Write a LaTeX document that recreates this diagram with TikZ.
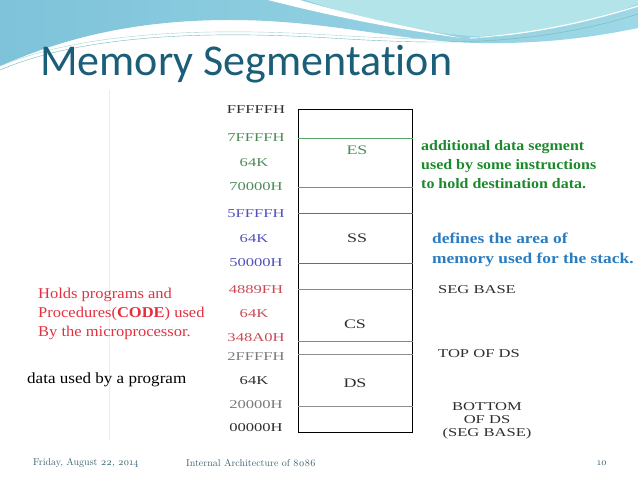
\documentclass[tikz,border=0pt]{standalone}
\usepackage{fontspec}
\usetikzlibrary{positioning}
\newfontfamily\titlefont[Ligatures=NoCommon]{Carlito}
\newfontfamily\memfont[FakeStretch=1.38]{Liberation Serif}
\newfontfamily\notefont[FakeStretch=1.1]{Liberation Serif}
\newfontfamily\stackfont[FakeStretch=1.16]{Liberation Serif}
\newfontfamily\footfont[Numbers=OldStyle]{Latin Modern Roman}
\definecolor{hdrA}{HTML}{7EC3DA}
\definecolor{hdrB}{HTML}{9ED8E6}
\definecolor{hdrC}{HTML}{B2E4EA}
\definecolor{titleteal}{HTML}{1B5E78}
\definecolor{esgreen}{HTML}{5AA468}
\definecolor{ssblue}{HTML}{5E5EDC}
\definecolor{csred}{HTML}{EC5868}
\definecolor{dsgray}{HTML}{8E8E8E}
\definecolor{memtext}{HTML}{2E2E2E}
\definecolor{notegreen}{HTML}{1C8A2C}
\definecolor{noteblue}{HTML}{2A7CC2}
\definecolor{notered}{HTML}{E2303E}
\definecolor{foottext}{HTML}{3A6474}

\begin{document}
\begin{tikzpicture}[x=1pt,y=-1pt,
    addr/.style={font=\memfont\fontsize{12}{13}\selectfont, inner sep=0pt, align=center},
    segname/.style={addr, font=\memfont\fontsize{13}{13}\selectfont},
    note/.style={font=\notefont\fontsize{15}{19}\selectfont, inner sep=0pt, align=left, anchor=west},
    foot/.style={font=\footfont\fontsize{10}{10}\selectfont, text=foottext, inner sep=0pt, anchor=west}]
    \useasboundingbox (0,0) rectangle (638,478);

    % header
    \shade[left color=hdrA, right color=hdrB] (0,0) -- (638,0) -- (638,28)
        .. controls (590,38) and (540,44) .. (480,43)
        .. controls (400,42) and (330,20) .. (230,20)
        .. controls (130,20) and (60,40) .. (0,66) -- cycle;
    \fill[hdrC] (305,0) -- (638,0) -- (638,4)
        .. controls (590,22) and (530,36) .. (470,36)
        .. controls (400,30) and (350,15) .. cycle;
    \fill[white] (268,0) .. controls (330,16) and (400,30) .. (462,38)
        .. controls (400,26) and (340,12) .. (300,0) -- cycle;
    \draw[white, line width=1.2pt] (470,38) .. controls (540,34) and (600,18) .. (638,6);
    \draw[teal!55, thin] (0,70) .. controls (80,36) and (200,30) .. (330,38)
        .. controls (430,44) and (530,48) .. (638,14);
    \draw[teal!35, thin] (0,66) .. controls (80,33) and (200,27) .. (330,35)
        .. controls (430,41) and (530,44) .. (638,10);

    \node[font=\titlefont\fontsize{44}{44}\selectfont, text=titleteal, anchor=base west,
        inner sep=0pt] (title) at (40,76) {Memory Segmentation};
    \draw[black!7] (109,90) -- (109,440);

    % memory map
    \node[draw, line width=1.3pt, minimum width=114, minimum height=323, anchor=north west,
        inner sep=0pt] (mem) at (298,109) {};
    \foreach \ly/\y/\c/\t in {138/138/esgreen/7FFFFH, 187/187/esgreen/70000H,
        214/213/ssblue/5FFFFH, 263/263/ssblue/50000H, 290/289/csred/4889FH,
        338/341/csred/348A0H, 357/354/dsgray/2FFFFH, 405/406/dsgray/20000H} {
        \draw[\c, line width=0.9pt] (mem.west |- 0,\y) -- (mem.east |- 0,\y);
        \node[addr, text=\c!85!black] (a\t) at (256,\ly) {\t};
    }
    \node[addr, text=memtext] (aFFFFFH) at (256,110) {FFFFFH};
    \node[addr, text=memtext] (a00000H) at (256,428) {00000H};
    \node[addr, text=esgreen!85!black] (kES) at (254,163) {64K};
    \node[addr, text=ssblue!85!black] (kSS) at (254,239) {64K};
    \node[addr, text=csred!85!black] (kCS) at (254,314) {64K};
    \node[addr, text=memtext] (kDS) at (254,381) {64K};

    \node[segname, text=esgreen!85!black] (es) at (357,150) {ES};
    \node[segname, text=memtext] (ss) at (357,238) {SS};
    \node[segname, text=memtext] (cs) at (355,324) {CS};
    \node[segname, text=memtext] (ds) at (355,383) {DS};

    \node[addr, text=memtext] (segbase) at (477,290) {SEG BASE};
    \node[addr, text=memtext] (topds) at (479,354) {TOP OF DS};
    \node[addr, text=memtext] (bottomds) at (487,421) {BOTTOM\\OF DS\\(SEG BASE)};

    % notes
    \node[note, text=notegreen, font=\notefont\bfseries\fontsize{14.5}{19}\selectfont]
        (esnote) at (421,165) {additional data segment\\used by some instructions\\to hold destination data.};
    \node[note, text=noteblue, font=\stackfont\bfseries\fontsize{15}{20}\selectfont]
        (ssnote) at (432,250) {defines the area of\\memory used for the stack.};
    \node[note, text=notered] (csnote) at (38,314)
        {Holds programs and\\Procedures(\textbf{CODE}) used\\By the microprocessor.};
    \node[note, text=black, font=\notefont\fontsize{15.5}{19}\selectfont] (dsnote) at (27,380) {data used by a program};

    % footer
    \node[foot] (date) at (33,463) {Friday, August 22, 2014};
    \node[foot] (course) at (186,463) {Internal Architecture of 8086};
    \node[foot] (page) at (597,463) {10};
\end{tikzpicture}
\end{document}
